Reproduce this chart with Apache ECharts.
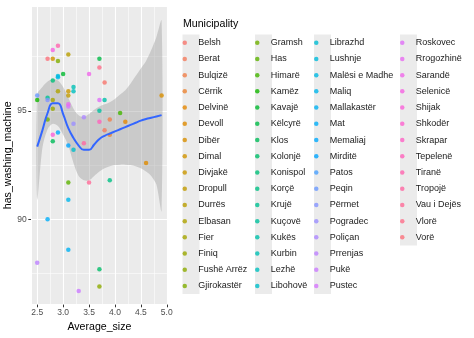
<!DOCTYPE html>
<html>
<head>
<meta charset="utf-8">
<script src="https://cdn.jsdelivr.net/npm/echarts@6/dist/echarts.min.js"></script>
<style>
  html, body { margin: 0; padding: 0; background: #fff; }
  #main { width: 474px; height: 338px; }
</style>
</head>
<body>
<div id="main"></div>
<script>
// municipalities, in legend order
const municipalities = [
  'Belsh', 'Berat', 'Bulqizë', 'Cërrik', 'Delvinë', 'Devoll', 'Dibër', 'Dimal',
  'Divjakë', 'Dropull', 'Durrës', 'Elbasan', 'Fier', 'Finiq', 'Fushë Arrëz', 'Gjirokastër',
  'Gramsh', 'Has', 'Himarë', 'Kamëz', 'Kavajë', 'Këlcyrë', 'Klos', 'Kolonjë',
  'Konispol', 'Korçë', 'Krujë', 'Kuçovë', 'Kukës', 'Kurbin', 'Lezhë', 'Libohovë',
  'Librazhd', 'Lushnje', 'Malësi e Madhe', 'Maliq', 'Mallakastër', 'Mat', 'Memaliaj', 'Mirditë',
  'Patos', 'Peqin', 'Përmet', 'Pogradec', 'Poliçan', 'Prrenjas', 'Pukë', 'Pustec',
  'Roskovec', 'Rrogozhinë', 'Sarandë', 'Selenicë', 'Shijak', 'Shkodër', 'Skrapar', 'Tepelenë',
  'Tiranë', 'Tropojë', 'Vau i Dejës', 'Vlorë', 'Vorë'
];
// Average_size per municipality (null = no point visible)
const averageSize = [
  3.8, 3.8, 3.9, 3.9, 4.2, 4.6, 4.9, 2.8,
  3.1, 3.1, 3.1, 2.9, 2.8, 2.8, 3.7, 2.9,
  2.7, 3.1, 4.1, 2.5, 3.0, 3.7, 2.8, 3.7,
  2.8, 3.9, 2.7, 3.7, 3.8, 3.2, 3.2, 3.2,
  null, 2.9, 2.9, 3.1, 3.1, 2.7, 2.9, 3.1,
  null, 2.5, 2.7, 3.2, 3.4, 2.5, 3.3, 3.1,
  3.7, 3.1, 3.5, 2.8, 2.8, null, null, 3.7,
  2.9, 3.4, 3.5, 3.7, 2.7
];
// has_washing_machine per municipality
const hasWashing = [
  96.3, 94.1, 94.6, 93.9, 94.5, 92.6, 95.7, 97.4,
  95.9, 95.7, 97.6, 95.9, 95.5, 95.1, 86.9, 97.3,
  94.6, 91.7, 94.9, 95.5, 96.7, 97.4, 93.6, 87.7,
  96.4, 91.8, 95.6, 95.0, 95.5, 96.1, 95.9, 93.2,
  null, 96.6, 96.55, 90.9, 88.6, 90.0, 94.0, 93.4,
  null, 95.7, 95.5, 94.4, 94.7, 88.0, 86.7, 95.2,
  95.5, 95.3, 96.7, 97.8, 93.9, null, null, 94.5,
  98.0, 93.5, 91.7, 97.0, 97.4
];

// loess smooth
const smoothX = [2.5, 2.6, 2.7, 2.8, 2.9, 3.0, 3.1, 3.2, 3.3, 3.4, 3.5, 3.6, 3.7,
  3.8, 3.9, 4.0, 4.1, 4.2, 4.3, 4.4, 4.5, 4.6, 4.7, 4.8, 4.9];
const smoothFit = [93.35, 94.1, 94.9, 95.35, 95.35, 94.85, 94.2, 93.75, 93.4, 93.2, 93.2, 93.45, 93.7,
  93.85, 93.95, 94.05, 94.15, 94.25, 94.35, 94.45, 94.55, 94.62, 94.68, 94.74, 94.8];
const smoothLower = [90.9, 93.3, 94.15, 94.4, 94.3, 93.9, 93.4, 92.6, 92.0, 91.8, 91.8, 92.0, 92.2,
  92.35, 92.45, 92.5, 92.52, 92.52, 92.5, 92.45, 92.35, 92.2, 92.0, 91.6, 90.4];
const smoothUpper = [95.75, 96.1, 96.35, 96.45, 96.4, 96.1, 95.6, 95.1, 94.8, 94.72, 94.85, 95.05, 95.2,
  95.3, 95.4, 95.55, 95.75, 95.95, 96.25, 96.6, 96.95, 97.3, 97.8, 98.4, 99.15];

const font = '"Liberation Sans", Arial, sans-serif';

// ggplot default hue palette: hcl(h, c = 100, l = 65)
function hcl(h, c, l) {
  const hr = h * Math.PI / 180;
  const U = c * Math.cos(hr), V = c * Math.sin(hr);
  const Y = l > 8 ? Math.pow((l + 16) / 116, 3) : l / 903.3;
  const u = U / (13 * l) + 0.1978398, v = V / (13 * l) + 0.4683363;
  const X = 9 * Y * u / (4 * v);
  const Z = -X / 3 - 5 * Y + 3 * Y / v;
  const lin = [
    3.240479 * X - 1.537150 * Y - 0.498535 * Z,
    -0.969256 * X + 1.875992 * Y + 0.041556 * Z,
    0.055648 * X - 0.204043 * Y + 1.057311 * Z
  ];
  return 'rgb(' + lin.map(t => {
    const g = t <= 0.0031308 ? 12.92 * t : 1.055 * Math.pow(t, 1 / 2.4) - 0.055;
    return Math.round(255 * Math.min(1, Math.max(0, g)));
  }).join(',') + ')';
}
const n = municipalities.length;
const colors = municipalities.map((m, i) => hcl((15 + 360 * i / n) % 360, 100, 65));

const pointSeries = municipalities.map((name, i) => ({
  name: name,
  type: 'scatter',
  symbolSize: 4.5,
  itemStyle: { color: colors[i] },
  data: averageSize[i] == null ? [] : [[averageSize[i], hasWashing[i]]]
}));

// legend columns like ggplot: 16 rows per column
const rowH = 16.22;
const legendTop = 34.6;
const colLeft = [182.5, 255, 314, 400];
const columns = [0, 1, 2, 3].map(c => municipalities.slice(c * 16, c * 16 + 16));

const legends = columns.map((names, c) => ({
  orient: 'vertical',
  left: colLeft[c],
  top: legendTop,
  padding: 0,
  itemGap: 0,
  itemWidth: 17,
  itemHeight: 4.5,
  icon: 'circle',
  data: names,
  textStyle: { fontSize: 9, color: '#1a1a1a', lineHeight: rowH, fontFamily: font }
}));

const keyRects = columns.map((names, c) => ({
  type: 'rect',
  left: colLeft[c],
  top: legendTop,
  shape: { width: 17, height: names.length * rowH },
  style: { fill: '#EBEBEB' },
  silent: true
}));

// confidence ribbon: one polygon, upper edge then lower edge back
function renderBand(params, api) {
  if (params.dataIndex !== 0) return null;
  const upper = smoothX.map((x, k) => api.coord([x, smoothUpper[k]]));
  const lower = smoothX.map((x, k) => api.coord([x, smoothLower[k]])).reverse();
  return {
    type: 'polygon',
    shape: { points: upper.concat(lower), smooth: 0.3 },
    style: { fill: 'rgba(153,153,153,0.4)' }
  };
}

const chart = echarts.init(document.getElementById('main'));
chart.setOption({
  animation: false,
  textStyle: { fontFamily: font },
  title: {
    text: 'Municipality',
    left: 183,
    top: 19,
    padding: 0,
    textStyle: { fontSize: 10.6, fontWeight: 'normal', color: '#000', fontFamily: font }
  },
  legend: legends,
  graphic: keyRects,
  grid: {
    left: 31, top: 6, width: 136.8, height: 301.9,
    show: true, backgroundColor: '#EBEBEB', borderWidth: 0
  },
  xAxis: {
    type: 'value',
    min: 2.38, max: 5.02,
    splitNumber: 5,
    name: 'Average_size',
    nameLocation: 'middle',
    nameGap: 14,
    nameTextStyle: { fontSize: 10.6, color: '#000' },
    axisLine: { show: false },
    axisTick: { length: 2.7, lineStyle: { color: '#333', width: 1 } },
    axisLabel: {
      fontSize: 8.5, color: '#4d4d4d', margin: 3.5,
      showMinLabel: false, showMaxLabel: false,
      formatter: v => v.toFixed(1)
    },
    splitLine: { lineStyle: { color: '#fff', width: 1.1 } },
    minorTick: { show: false, splitNumber: 2 },
    minorSplitLine: { show: true, lineStyle: { color: '#fff', width: 0.55 } }
  },
  yAxis: {
    type: 'value',
    min: 86.07, max: 99.83,
    splitNumber: 2,
    name: 'has_washing_machine',
    nameLocation: 'middle',
    nameGap: 17,
    nameTextStyle: { fontSize: 10.6, color: '#000' },
    axisLine: { show: false },
    axisTick: { length: 2.7, lineStyle: { color: '#333', width: 1 } },
    axisLabel: { fontSize: 8.5, color: '#4d4d4d', margin: 4.3, showMinLabel: false, showMaxLabel: false },
    splitLine: { lineStyle: { color: '#fff', width: 1.1 } },
    minorTick: { show: false, splitNumber: 2 },
    minorSplitLine: { show: true, lineStyle: { color: '#fff', width: 0.55 } }
  },
  series: pointSeries.concat([
    {
      type: 'custom',
      silent: true,
      clip: true,
      renderItem: renderBand,
      encode: { x: 0, y: 1 },
      data: smoothX.map((x, k) => [x, smoothLower[k], smoothUpper[k]])
    },
    {
      type: 'line',
      smooth: true,
      symbol: 'none',
      silent: true,
      lineStyle: { color: '#3366FF', width: 2 },
      data: smoothX.map((x, k) => [x, smoothFit[k]])
    }
  ])
});
</script>
</body>
</html>
